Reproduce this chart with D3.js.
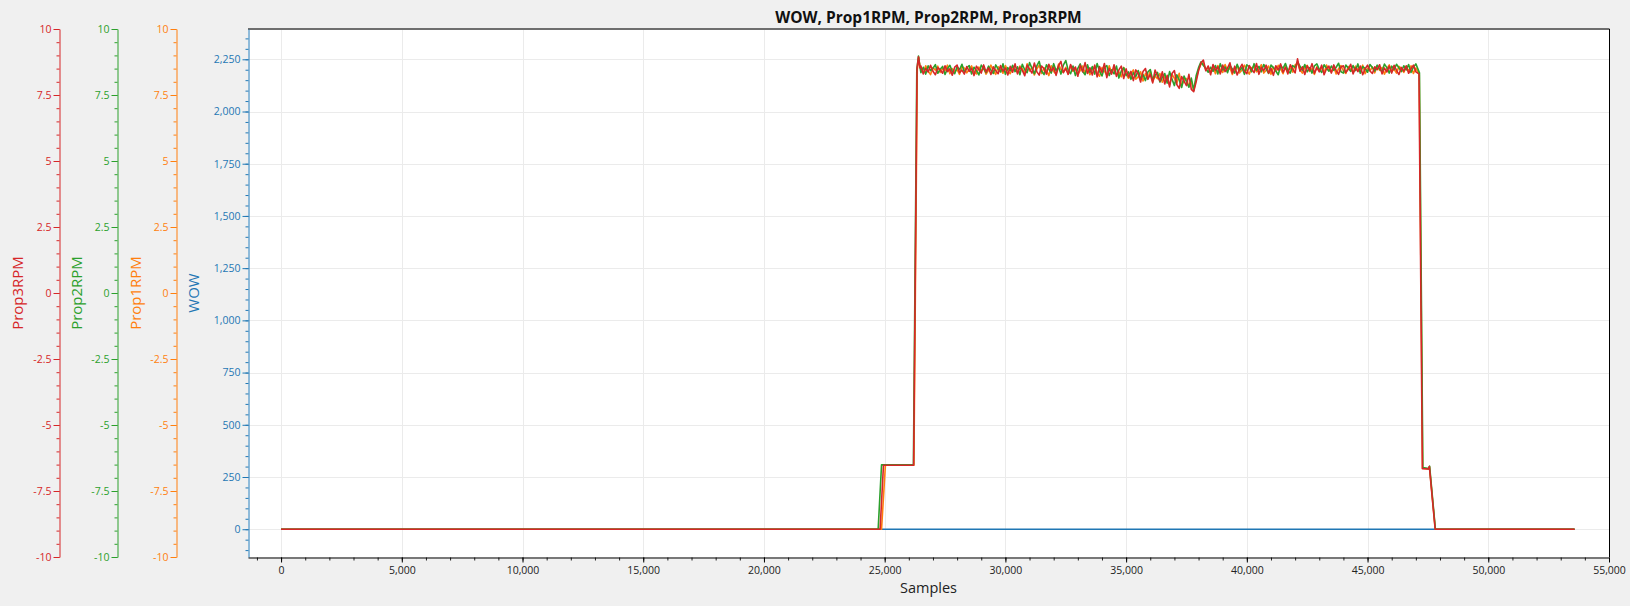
<!DOCTYPE html>
<html>
<head>
<meta charset="utf-8">
<script src="https://cdn.jsdelivr.net/npm/d3@7"></script>
<style>
  body { margin: 0; background: #f0f0f0; }
  svg { display: block; font-family: "Open Sans", "Noto Sans", sans-serif; }
</style>
</head>
<body>
<div id="chart"></div>
<script>
// size + plot box
var W = 1630, H = 606;
var plotLeft = 248, plotRight = 1609, plotTop = 29, plotBottom = 557;

var colWow = "#1f77b4", colP1 = "#ff7f0e", colP2 = "#2ca02c", colP3 = "#d62728";

// axes
var xDomain = [-1370, 55000];
var yDomain = [-133, 2395];
var propDomain = [-10, 10];
var xTicks = [0, 5000, 10000, 15000, 20000, 25000, 30000, 35000, 40000, 45000, 50000, 55000];
var yTicks = [0, 250, 500, 750, 1000, 1250, 1500, 1750, 2000, 2250];
var propTicks = [-10, -7.5, -5, -2.5, 0, 2.5, 5, 7.5, 10];

// WOW stays at 0 over the whole record
var wowPoints = [[0, 0], [53575, 0]];

// prop traces: run-up, then the noisy plateau, then the shutdown
var prop1Start = [[0, 0], [24870, 0], [25030, 306], [26210, 306], [26350, 2200], [26410, 2258], [26460, 2212]];
var prop2Start = [[0, 0], [24730, 0], [24870, 308], [26190, 308], [26330, 2200], [26400, 2265], [26460, 2215]];
var prop3Start = [[0, 0], [24810, 0], [24950, 306], [26200, 306], [26340, 2205], [26400, 2262], [26460, 2210]];

// plateau samples every 100 from 26,500 to 47,000
var plateauStart = 26500, plateauStep = 100;

var prop1Plateau = [
  2205, 2184, 2219, 2193, 2177, 2210, 2198, 2217, 2187, 2206,
  2195, 2222, 2181, 2205, 2190, 2201, 2178, 2216, 2208, 2185,
  2202, 2218, 2191, 2180, 2213, 2195, 2207, 2179, 2197, 2222,
  2194, 2178, 2214, 2203, 2183, 2220, 2195, 2181, 2209, 2199,
  2188, 2218, 2206, 2180, 2228, 2194, 2211, 2175, 2203, 2222,
  2182, 2209, 2197, 2172, 2219, 2192, 2178, 2227, 2201, 2187,
  2212, 2180, 2219, 2193, 2205, 2178, 2196, 2218, 2184, 2208,
  2176, 2201, 2216, 2185, 2169, 2210, 2193, 2174, 2219, 2187,
  2206, 2175, 2190, 2166, 2211, 2183, 2159, 2178, 2199, 2155,
  2166, 2190, 2146, 2181, 2162, 2193, 2142, 2170, 2157, 2182,
  2140, 2168, 2151, 2127, 2177, 2159, 2135, 2183, 2122, 2150,
  2158, 2120, 2143, 2100, 2155, 2200, 2226, 2232, 2199, 2211,
  2190, 2214, 2181, 2220, 2200, 2187, 2225, 2195, 2209, 2177,
  2204, 2218, 2185, 2199, 2222, 2196, 2179, 2210, 2215, 2190,
  2201, 2224, 2184, 2198, 2218, 2178, 2212, 2193, 2221, 2204,
  2181, 2216, 2197, 2209, 2188, 2223, 2232, 2200, 2184, 2211,
  2221, 2192, 2206, 2178, 2214, 2197, 2209, 2186, 2222, 2200,
  2189, 2212, 2180, 2205, 2220, 2194, 2182, 2215, 2203, 2188,
  2217, 2200, 2191, 2222, 2181, 2207, 2195, 2213, 2185, 2219,
  2197, 2211, 2179, 2205, 2223, 2192, 2202, 2184, 2216, 2206,
  2187, 2212, 2195, 2219, 2182, 2208
];
var prop2Plateau = [
  2186, 2212, 2179, 2219, 2196, 2207, 2224, 2183, 2202, 2216,
  2177, 2205, 2221, 2193, 2181, 2214, 2200, 2226, 2187, 2208,
  2220, 2180, 2212, 2196, 2175, 2222, 2206, 2186, 2217, 2198,
  2182, 2223, 2203, 2189, 2228, 2178, 2210, 2195, 2221, 2191,
  2214, 2176, 2226, 2200, 2186, 2234, 2207, 2181, 2218, 2240,
  2193, 2177, 2224, 2203, 2184, 2229, 2195, 2213, 2179, 2222,
  2244, 2198, 2181, 2218, 2172, 2207, 2228, 2192, 2176, 2224,
  2188, 2215, 2179, 2230, 2192, 2170, 2211, 2220, 2172, 2200,
  2180, 2218, 2160, 2194, 2209, 2172, 2190, 2154, 2186, 2167,
  2196, 2157, 2177, 2148, 2189, 2201, 2150, 2174, 2187, 2141,
  2163, 2182, 2136, 2191, 2155, 2124, 2176, 2150, 2115, 2170,
  2143, 2116, 2160, 2102, 2171, 2210, 2238, 2220, 2206, 2188,
  2212, 2192, 2220, 2180, 2229, 2199, 2213, 2186, 2221, 2204,
  2184, 2226, 2196, 2211, 2178, 2224, 2213, 2190, 2229, 2198,
  2216, 2190, 2225, 2204, 2182, 2222, 2210, 2194, 2176, 2219,
  2207, 2230, 2195, 2184, 2220, 2211, 2238, 2217, 2197, 2225,
  2190, 2210, 2184, 2219, 2228, 2202, 2187, 2224, 2207, 2193,
  2218, 2197, 2212, 2231, 2190, 2184, 2222, 2208, 2192, 2220,
  2196, 2228, 2183, 2215, 2206, 2188, 2225, 2211, 2194, 2222,
  2204, 2190, 2227, 2210, 2184, 2217, 2201, 2226, 2209, 2191,
  2219, 2199, 2225, 2187, 2212, 2228
];
var prop3Plateau = [
  2218, 2180, 2206, 2189, 2221, 2193, 2176, 2210, 2199, 2183,
  2219, 2191, 2204, 2174, 2212, 2222, 2186, 2198, 2179, 2215,
  2192, 2207, 2172, 2217, 2201, 2184, 2223, 2189, 2209, 2177,
  2214, 2195, 2181, 2220, 2193, 2208, 2175, 2216, 2188, 2228,
  2180, 2212, 2197, 2171, 2222, 2203, 2184, 2232, 2191, 2174,
  2218, 2205, 2179, 2226, 2194, 2211, 2173, 2219, 2240, 2186,
  2206, 2178, 2225, 2196, 2213, 2169, 2221, 2190, 2234, 2182,
  2209, 2175, 2222, 2166, 2215, 2187, 2230, 2162, 2206, 2179,
  2224, 2168, 2199, 2217, 2158, 2204, 2165, 2192, 2148, 2199,
  2181, 2141, 2192, 2206, 2154, 2178, 2137, 2199, 2169, 2146,
  2190, 2132, 2173, 2118, 2182, 2196, 2129, 2111, 2167, 2145,
  2124, 2178, 2106, 2095, 2142, 2196, 2232, 2246, 2195, 2218,
  2176, 2225, 2197, 2214, 2180, 2222, 2191, 2208, 2233, 2184,
  2217, 2175, 2205, 2226, 2194, 2181, 2220, 2202, 2186, 2230,
  2178, 2212, 2195, 2222, 2184, 2207, 2173, 2219, 2198, 2228,
  2188, 2211, 2180, 2224, 2203, 2185, 2252, 2193, 2214, 2177,
  2219, 2196, 2229, 2183, 2210, 2190, 2222, 2176, 2205, 2217,
  2184, 2223, 2196, 2178, 2213, 2219, 2187, 2202, 2226, 2180,
  2209, 2191, 2218, 2176, 2205, 2222, 2194, 2182, 2214, 2200,
  2224, 2180, 2208, 2189, 2217, 2184, 2221, 2197, 2177, 2211,
  2193, 2219, 2183, 2205, 2222, 2190
];

var prop1End = [[47140, 2178], [47280, 292], [47525, 289], [47565, 298], [47805, 0], [53575, 0]];
var prop2End = [[47150, 2185], [47290, 295], [47530, 290], [47570, 302], [47810, 0], [53575, 0]];
var prop3End = [[47130, 2180], [47270, 290], [47520, 288], [47560, 300], [47800, 0], [53575, 0]];

function buildTrace(start, plateau, end) {
  var pts = start.slice();
  for (var i = 0; i < plateau.length; i++) {
    pts.push([plateauStart + i * plateauStep, plateau[i]]);
  }
  return pts.concat(end);
}

var svg = d3.select("#chart").append("svg")
  .attr("width", W)
  .attr("height", H);

var xScale = d3.scaleLinear().domain(xDomain).range([plotLeft, plotRight]);
var yScale = d3.scaleLinear().domain(yDomain).range([plotBottom, plotTop]);
var propScale = d3.scaleLinear().domain(propDomain).range([plotBottom, plotTop]);

// plot background
svg.append("rect")
  .attr("x", plotLeft).attr("y", plotTop)
  .attr("width", plotRight - plotLeft).attr("height", plotBottom - plotTop)
  .attr("fill", "#fff");

// grid
var grid = svg.append("g").attr("stroke", "#ebebeb").attr("stroke-width", 1);
xTicks.forEach(function (t) {
  grid.append("line")
    .attr("x1", Math.round(xScale(t)) + 0.5).attr("x2", Math.round(xScale(t)) + 0.5)
    .attr("y1", plotTop).attr("y2", plotBottom);
});
yTicks.forEach(function (t) {
  grid.append("line")
    .attr("x1", plotLeft).attr("x2", plotRight)
    .attr("y1", Math.round(yScale(t)) + 0.5).attr("y2", Math.round(yScale(t)) + 0.5);
});

// traces (WOW at the bottom, Prop3 on top)
var line = d3.line()
  .x(function (d) { return xScale(d[0]); })
  .y(function (d) { return yScale(d[1]); });

var traces = [
  { pts: wowPoints, color: colWow },
  { pts: buildTrace(prop1Start, prop1Plateau, prop1End), color: colP1 },
  { pts: buildTrace(prop2Start, prop2Plateau, prop2End), color: colP2 },
  { pts: buildTrace(prop3Start, prop3Plateau, prop3End), color: colP3 }
];
traces.forEach(function (t) {
  svg.append("path")
    .attr("d", line(t.pts))
    .attr("fill", "none")
    .attr("stroke", t.color)
    .attr("stroke-width", 1.6)
    .attr("stroke-linejoin", "round");
});

// frame: top grey, right black
svg.append("line")
  .attr("x1", plotLeft).attr("x2", plotRight + 0.5)
  .attr("y1", plotTop).attr("y2", plotTop)
  .attr("stroke", "#6e6e6e").attr("stroke-width", 2);
svg.append("line")
  .attr("x1", plotRight + 0.5).attr("x2", plotRight + 0.5)
  .attr("y1", plotTop).attr("y2", plotBottom)
  .attr("stroke", "#000").attr("stroke-width", 1);

function styleAxis(g, color, textColor) {
  g.attr("font-family", null).attr("font-size", 10.5);
  g.selectAll(".domain").attr("stroke", color);
  g.selectAll(".tick line").attr("stroke", color);
  g.selectAll(".tick text").attr("fill", textColor);
}

// left axes: three prop axes + WOW
function drawLeftAxis(xPos, scale, major, minor, fmt, color) {
  var g = svg.append("g").attr("transform", "translate(" + xPos + ",0)");
  g.append("g")
    .call(d3.axisLeft(scale).tickValues(minor).tickSize(3).tickSizeOuter(0).tickFormat(""))
    .call(function (s) { s.select(".domain").remove(); s.selectAll(".tick line").attr("stroke", color); });
  g.append("g")
    .call(d3.axisLeft(scale).tickValues(major).tickSize(6).tickSizeOuter(0).tickPadding(2).tickFormat(fmt))
    .call(function (s) { styleAxis(s, color, color); });
  return g;
}

var propMinor = d3.range(-10, 10.001, 0.5);
var plain = function (d) { return String(d); };
drawLeftAxis(59.5, propScale, propTicks, propMinor, plain, colP3);
drawLeftAxis(117.5, propScale, propTicks, propMinor, plain, colP2);
drawLeftAxis(176.5, propScale, propTicks, propMinor, plain, colP1);
drawLeftAxis(plotLeft + 0.5, yScale, yTicks, d3.range(-100, 2351, 50), d3.format(","), colWow);

// bottom axis
var xMinor = d3.range(-1000, 55001, 1000);
var xg = svg.append("g").attr("transform", "translate(0," + (plotBottom + 0.5) + ")");
xg.append("g")
  .call(d3.axisBottom(xScale).tickValues(xMinor).tickSize(3).tickSizeOuter(0).tickFormat(""))
  .call(function (s) { s.select(".domain").remove(); s.selectAll(".tick line").attr("stroke", "#222"); });
xg.append("g")
  .call(d3.axisBottom(xScale).tickValues(xTicks).tickSize(5).tickSizeOuter(0).tickPadding(4).tickFormat(d3.format(",")))
  .call(function (s) { styleAxis(s, "#000", "#222"); });

// titles
svg.append("text")
  .attr("x", (plotLeft + plotRight) / 2).attr("y", 23)
  .attr("text-anchor", "middle")
  .attr("font-size", 15.5).attr("font-weight", 700).attr("fill", "#111")
  .text("WOW, Prop1RPM, Prop2RPM, Prop3RPM");

svg.append("text")
  .attr("x", (plotLeft + plotRight) / 2).attr("y", 593)
  .attr("text-anchor", "middle")
  .attr("font-size", 14.5).attr("fill", "#222")
  .text("Samples");

var axisTitles = [
  { label: "Prop3RPM", x: 17.5, color: colP3 },
  { label: "Prop2RPM", x: 76.5, color: colP2 },
  { label: "Prop1RPM", x: 135.5, color: colP1 },
  { label: "WOW", x: 194, color: colWow }
];
axisTitles.forEach(function (a) {
  svg.append("text")
    .attr("transform", "translate(" + a.x + "," + (plotTop + plotBottom) / 2 + ") rotate(-90)")
    .attr("text-anchor", "middle")
    .attr("dy", "0.35em")
    .attr("font-size", 15)
    .attr("fill", a.color)
    .text(a.label);
});
</script>
</body>
</html>
